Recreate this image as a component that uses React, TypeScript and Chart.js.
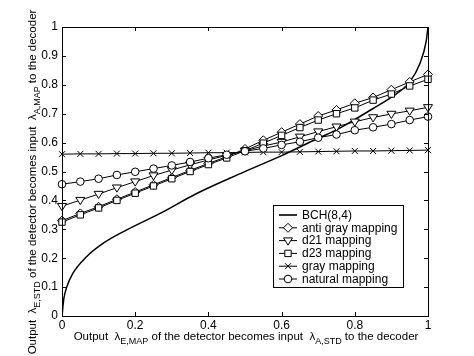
import React, { useEffect, useRef } from "react";
import { Chart, registerables } from "chart.js";

Chart.register(...registerables);

const xValues = [0, 0.05, 0.1, 0.15, 0.2, 0.25, 0.3, 0.35, 0.4, 0.45, 0.5, 0.55, 0.6, 0.65, 0.7, 0.75, 0.8, 0.85, 0.9, 0.95, 1];
const antiGray = [0.33, 0.355, 0.378, 0.404, 0.429, 0.454, 0.479, 0.504, 0.528, 0.551, 0.578, 0.608, 0.636, 0.664, 0.692, 0.713, 0.736, 0.756, 0.783, 0.81, 0.836];
const d21 = [0.38, 0.401, 0.422, 0.444, 0.465, 0.486, 0.505, 0.523, 0.54, 0.556, 0.572, 0.588, 0.602, 0.62, 0.638, 0.655, 0.672, 0.687, 0.699, 0.71, 0.722];
const d23 = [0.325, 0.35, 0.374, 0.4, 0.425, 0.45, 0.475, 0.5, 0.524, 0.547, 0.572, 0.598, 0.625, 0.652, 0.678, 0.7, 0.72, 0.747, 0.768, 0.796, 0.819];
const gray = [0.56, 0.561, 0.561, 0.562, 0.562, 0.563, 0.563, 0.564, 0.565, 0.565, 0.566, 0.567, 0.567, 0.568, 0.569, 0.57, 0.571, 0.571, 0.572, 0.573, 0.574];
const natural = [0.456, 0.465, 0.475, 0.488, 0.499, 0.51, 0.521, 0.533, 0.546, 0.558, 0.57, 0.58, 0.592, 0.603, 0.617, 0.628, 0.643, 0.653, 0.664, 0.678, 0.69];

const bchX = [0, 0.005, 0.013, 0.03, 0.067, 0.113, 0.177, 0.268, 0.368, 0.482, 0.6, 0.7, 0.75, 0.8, 0.85, 0.9, 0.95, 0.978, 0.995, 1];
const bchY = [0, 0.06, 0.1, 0.148, 0.205, 0.252, 0.298, 0.355, 0.424, 0.49, 0.555, 0.615, 0.644, 0.68, 0.718, 0.757, 0.81, 0.874, 0.95, 1];

const seriesNames = ["BCH(8,4)", "anti gray mapping", "d21 mapping", "d23 mapping", "gray mapping", "natural mapping"];
const markerKinds = ["none", "diamond", "triDown", "square", "x", "circle"];

const xTickValues = [0, 0.2, 0.4, 0.6, 0.8, 1];
const xTickLabels = ["0", "0.2", "0.4", "0.6", "0.8", "1"];
const yTickValues = [0, 0.1, 0.2, 0.3, 0.4, 0.5, 0.6, 0.7, 0.8, 0.9, 1];
const yTickLabels = ["0", "0.1", "0.2", "0.3", "0.4", "0.5", "0.6", "0.7", "0.8", "0.9", "1"];

const xTitle = [
  { t: "Output  λ" },
  { t: "E,MAP", sub: true },
  { t: " of the detector becomes input  λ" },
  { t: "A,STD", sub: true },
  { t: " to the decoder" },
];
const yTitle = [
  { t: "Output  λ" },
  { t: "E,STD", sub: true },
  { t: " of the detector becomes input  λ" },
  { t: "A,MAP", sub: true },
  { t: " to the decoder" },
];

const FONT = "'Liberation Sans', Arial, Helvetica, sans-serif";

function drawMarker(ctx: CanvasRenderingContext2D, kind: string, x: number, y: number) {
  ctx.save();
  ctx.fillStyle = "#fff";
  ctx.strokeStyle = "#000";
  ctx.lineWidth = 1;
  ctx.beginPath();
  if (kind === "diamond") {
    const r = 4.5;
    ctx.moveTo(x, y - r); ctx.lineTo(x + r, y); ctx.lineTo(x, y + r); ctx.lineTo(x - r, y); ctx.closePath();
    ctx.fill(); ctx.stroke();
  } else if (kind === "triDown") {
    const r = 4.5;
    ctx.moveTo(x - r, y - r * 0.6); ctx.lineTo(x + r, y - r * 0.6); ctx.lineTo(x, y + r); ctx.closePath();
    ctx.fill(); ctx.stroke();
  } else if (kind === "square") {
    const r = 3.2;
    ctx.rect(x - r, y - r, 2 * r, 2 * r);
    ctx.fill(); ctx.stroke();
  } else if (kind === "x") {
    const r = 3;
    ctx.moveTo(x - r, y - r); ctx.lineTo(x + r, y + r); ctx.moveTo(x + r, y - r); ctx.lineTo(x - r, y + r);
    ctx.stroke();
  } else if (kind === "circle") {
    ctx.arc(x, y, 3.8, 0, Math.PI * 2);
    ctx.fill(); ctx.stroke();
  }
  ctx.restore();
}

function drawRich(ctx: CanvasRenderingContext2D, segs: { t: string; sub?: boolean }[], size: number) {
  const main = `${size}px ${FONT}`;
  const sub = `${Math.round(size * 0.8)}px ${FONT}`;
  let total = 0;
  const widths = segs.map((s) => {
    ctx.font = s.sub ? sub : main;
    const w = ctx.measureText(s.t).width;
    total += w;
    return w;
  });
  let x = -total / 2;
  segs.forEach((s, i) => {
    ctx.font = s.sub ? sub : main;
    ctx.fillText(s.t, x, s.sub ? size * 0.38 : 0);
    x += widths[i];
  });
}

const customPlugin = {
  id: "custom",
  afterDatasetsDraw(chart: any) {
    const { ctx, chartArea: a, scales } = chart;
    ctx.save();
    ctx.strokeStyle = "#000";
    ctx.lineWidth = 1;
    ctx.strokeRect(Math.round(a.left) + 0.5, Math.round(a.top) + 0.5, Math.round(a.right - a.left), Math.round(a.bottom - a.top));
    const tl = 4;
    ctx.beginPath();
    xTickValues.forEach((v) => {
      const px = Math.round(scales.x.getPixelForValue(v)) + 0.5;
      ctx.moveTo(px, a.bottom); ctx.lineTo(px, a.bottom - tl);
      ctx.moveTo(px, a.top); ctx.lineTo(px, a.top + tl);
    });
    yTickValues.forEach((v) => {
      const py = Math.round(scales.y.getPixelForValue(v)) + 0.5;
      ctx.moveTo(a.left, py); ctx.lineTo(a.left + tl, py);
      ctx.moveTo(a.right, py); ctx.lineTo(a.right - tl, py);
    });
    ctx.stroke();

    // legend
    const lx = 273.5, ly = 205.5, lw = 130, lh = 82;
    ctx.fillStyle = "#fff";
    ctx.fillRect(lx, ly, lw, lh);
    ctx.strokeRect(lx, ly, lw, lh);
    ctx.fillStyle = "#000";
    ctx.textBaseline = "middle";
    ctx.textAlign = "left";
    ctx.font = `12px ${FONT}`;
    seriesNames.forEach((name, i) => {
      const cy = 215 + i * 12.8;
      ctx.beginPath();
      ctx.lineWidth = markerKinds[i] === "none" ? 1.6 : 1;
      ctx.moveTo(279, cy); ctx.lineTo(297, cy);
      ctx.stroke();
      drawMarker(ctx, markerKinds[i], 288, cy);
      ctx.fillStyle = "#000";
      ctx.fillText(name, 302, cy + 0.5);
    });

    // axis titles
    ctx.textBaseline = "alphabetic";
    ctx.textAlign = "left";
    ctx.fillStyle = "#000";
    ctx.save();
    ctx.translate((a.left + a.right) / 2 + 1, 340);
    drawRich(ctx, xTitle, 11.5);
    ctx.restore();
    ctx.save();
    ctx.translate(36, 182);
    ctx.rotate(-Math.PI / 2);
    drawRich(ctx, yTitle, 11.5);
    ctx.restore();
    ctx.restore();
  },
};

const markerPlugin = {
  id: "markers",
  afterDatasetsDraw(chart: any) {
    const { ctx } = chart;
    chart.data.datasets.forEach((ds: any, i: number) => {
      const kind = ds.markerKind;
      if (!kind || kind === "none") return;
      const meta = chart.getDatasetMeta(i);
      meta.data.forEach((pt: any) => drawMarker(ctx, kind, pt.x, pt.y));
    });
  },
};

export default function App() {
  const ref = useRef<HTMLCanvasElement>(null);
  useEffect(() => {
    document.body.style.margin = "0";
    const seriesVals = [antiGray, d21, d23, gray, natural];
    const datasets: any[] = [
      {
        label: seriesNames[0],
        data: bchX.map((x, i) => ({ x, y: bchY[i] })),
        borderColor: "#000",
        borderWidth: 1.5,
        pointRadius: 0,
        cubicInterpolationMode: "monotone",
        markerKind: "none",
      },
      ...seriesVals.map((vals, k) => ({
        label: seriesNames[k + 1],
        data: xValues.map((x, i) => ({ x, y: vals[i] })),
        borderColor: "#000",
        borderWidth: 1,
        pointRadius: 0,
        markerKind: markerKinds[k + 1],
      })),
    ];
    const chart = new Chart(ref.current!, {
      type: "line",
      data: { datasets },
      options: {
        animation: false,
        responsive: false,
        layout: { padding: { left: 0, top: 27, right: 46, bottom: 0 } },
        plugins: { legend: { display: false }, tooltip: { enabled: false } },
        scales: {
          x: {
            type: "linear",
            min: 0,
            max: 1,
            afterFit: (s: any) => { s.height = 40; },
            afterBuildTicks: (s: any) => { s.ticks = xTickValues.map((v) => ({ value: v })); },
            grid: { display: false, drawTicks: false },
            border: { display: false },
            ticks: {
              color: "#000",
              padding: 2,
              maxRotation: 0,
              font: { family: FONT, size: 12 },
              callback: (_v: any, i: number) => xTickLabels[i],
            },
          },
          y: {
            type: "linear",
            min: 0,
            max: 1,
            afterFit: (s: any) => { s.width = 62; },
            afterBuildTicks: (s: any) => { s.ticks = yTickValues.map((v) => ({ value: v })); },
            grid: { display: false, drawTicks: false },
            border: { display: false },
            ticks: {
              color: "#000",
              padding: 4,
              font: { family: FONT, size: 12 },
              callback: (_v: any, i: number) => yTickLabels[i],
            },
          },
        },
      } as any,
      plugins: [markerPlugin, customPlugin],
    });
    return () => chart.destroy();
  }, []);
  return (
    <div style={{ position: "absolute", left: 0, top: 0, width: 474, height: 356, background: "#fff" }}>
      <canvas ref={ref} width={474} height={356} style={{ width: 474, height: 356, display: "block" }} />
    </div>
  );
}
